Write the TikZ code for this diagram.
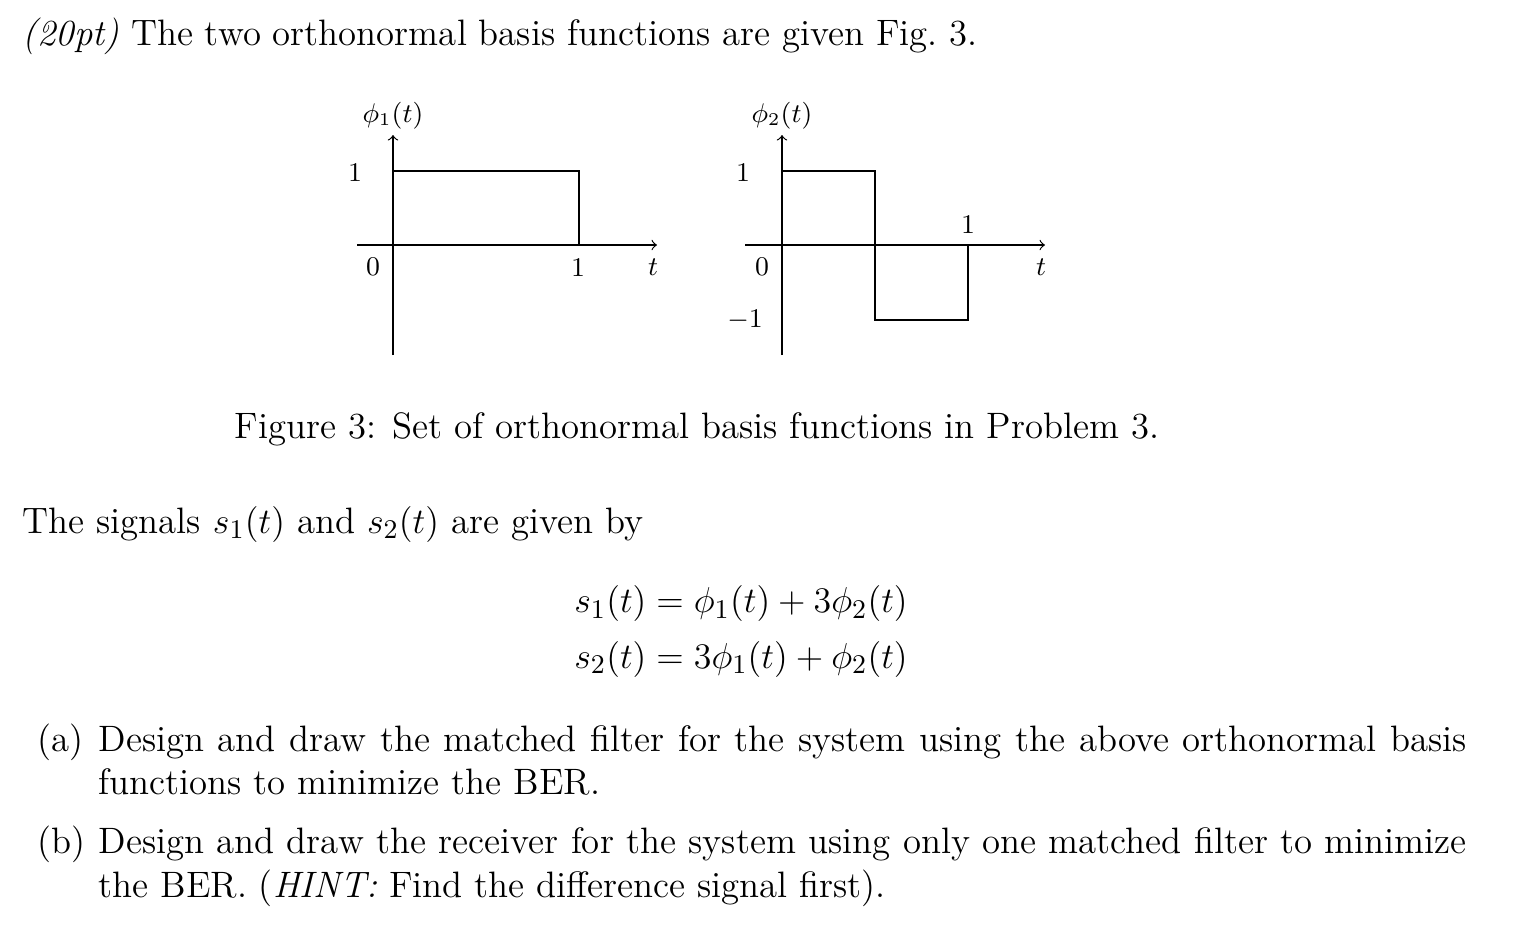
\documentclass[tikz,border=0pt]{standalone}
\usepackage{amsmath}
\begin{document}
\begin{tikzpicture}[x=0.3333pt,y=-0.3333pt,
  body/.style={anchor=base west,inner sep=0pt,font=\fontsize{12.25}{14.5}\selectfont},
  lbl/.style={inner sep=0pt,font=\fontsize{9}{11}\selectfont},
  ax/.style={->,line width=0.4pt},
  sig/.style={line width=0.8pt}]
\useasboundingbox (0,0) rectangle (1522,934);
\node[body] (title) at (22,45) {\textit{(20pt)} The two orthonormal basis functions are given Fig.~3.};
% plot 1
\draw[ax] (393,355) -- (393,135);
\draw[ax] (357,245) -- (657,245);
\draw[sig] (393,171) -- (579,171) -- (579,245);
\node[lbl] (p1) at (393,116) {$\phi_1(t)$};
\node[lbl] (a1) at (355,172) {1};
\node[lbl] (a2) at (373,267) {0};
\node[lbl] (a3) at (578,267) {1};
\node[lbl] (a4) at (653,267) {$t$};
% plot 2
\draw[ax] (782,355) -- (782,135);
\draw[ax] (745,245) -- (1045,245);
\draw[sig] (782,171) -- (875,171) -- (875,320) -- (968,320) -- (968,245);
\node[lbl] (p2) at (782,116) {$\phi_2(t)$};
\node[lbl] (b1) at (743,172) {1};
\node[lbl] (b2) at (762,267) {0};
\node[lbl] (b3) at (745,320) {$-1$};
\node[lbl] (b4) at (968,224) {1};
\node[lbl] (b5) at (1041,267) {$t$};
\node[body,anchor=base] (cap) at (697,438) {Figure 3: Set of orthonormal basis functions in Problem 3.};
\node[body] (sig) at (22,533) {The signals $s_1(t)$ and $s_2(t)$ are given by};
\node[body,anchor=center] (eq) at (741,632) {$\begin{aligned} s_1(t)&=\phi_1(t)+3\phi_2(t)\\[1pt] s_2(t)&=3\phi_1(t)+\phi_2(t)\end{aligned}$};
\node[body] (qa) at (37,751) {(a)};
\node[body] (qa1) at (98,751) {\makebox[456pt][s]{Design and draw the matched filter for the system using the above orthonormal basis}};
\node[body] (qa2) at (98,794) {functions to minimize the BER.};
\node[body] (qb) at (37,853) {(b)};
\node[body] (qb1) at (98,853) {\makebox[456pt][s]{Design and draw the receiver for the system using only one matched filter to minimize}};
\node[body] (qb2) at (98,897) {the BER. (\textit{HINT:} Find the difference signal first).};
\end{tikzpicture}
\end{document}
